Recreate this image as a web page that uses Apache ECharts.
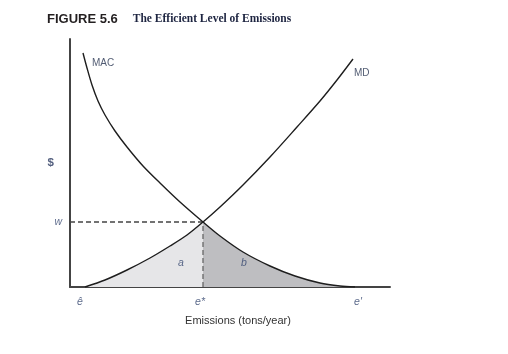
<!DOCTYPE html>
<html><head><meta charset="utf-8">
<script src="https://cdn.jsdelivr.net/npm/echarts@6/dist/echarts.min.js"></script>
<style>html,body{margin:0;padding:0;background:#fff}#c{width:508px;height:354px}</style>
</head><body><div id="c"></div>
<script>
// Curves (x = emissions, y = $), arbitrary units
const macPoints = [[13,234],[17,219],[22,202],[28,186],[35,172],[45,156],[57,140],[73,121],[90,104],[110,85],[133,65],[150,51],[173,35],[200,21],[225,11],[250,4],[270,1],[285,0]];
const mdPoints  = [[15,0],[35,7],[57,17],[80,29],[100,41],[117,52],[133,65],[150,80],[173,102],[200,130],[227,160],[250,186],[267,207],[283,228]];
const eHat = 15, eStar = 133, ePrime = 285, wLevel = 65;
const xTickLabels = [[eHat,'ê'],[eStar,'e*'],[ePrime,'e′']];
const curveLabels = [[22,224,'MAC'],[284,214,'MD']];
const areaLabels = [[111,24,'a'],[174,24,'b']];
const dollarLevel = 124;
const xMax = 320, yMax = 248;

const chart = echarts.init(document.getElementById('c'));
const areaA = mdPoints.filter(p => p[0] <= eStar);
const areaB = macPoints.filter(p => p[0] >= eStar);
const lineCol = '#1e1e1e';
const labelOffsets = [-5, -3, 3];
const labCol = '#34466f';
chart.setOption({
  animation:false,
  title:{left:42, top:5, text:'{a|FIGURE 5.6}   {b|The Efficient Level of Emissions}',
    textStyle:{rich:{
      a:{fontFamily:'Liberation Sans', fontWeight:'bold', fontSize:13, color:'#231f20'},
      b:{fontFamily:'Liberation Serif', fontWeight:'bold', fontSize:11.5, color:'#1d2440'}}}},
  grid:{left:70, right:118, top:39, bottom:67},
  xAxis:{type:'value', min:0, max:xMax, axisLine:{show:true,onZero:false,lineStyle:{color:'#444',width:2}},
    axisTick:{show:false}, axisLabel:{show:false}, splitLine:{show:false}},
  yAxis:{type:'value', min:0, max:yMax, axisLine:{show:true,onZero:false,lineStyle:{color:'#444',width:2}},
    axisTick:{show:false}, axisLabel:{show:false}, splitLine:{show:false}},
  graphic:[{type:'text', style:{text:'Emissions (tons/year)', x:238, y:321, align:'center', verticalAlign:'middle',
    font:'11px Liberation Sans', fill:'#333'}}],
  series:[
    {type:'line', data:areaA, smooth:0.3, symbol:'none', lineStyle:{width:0}, areaStyle:{color:'#e6e6e8',opacity:1}, z:1},
    {type:'line', data:areaB, smooth:0.3, symbol:'none', lineStyle:{width:0}, areaStyle:{color:'#bebec1',opacity:1}, z:1},
    {type:'line', data:[[0,wLevel],[eStar,wLevel]], symbol:'none', lineStyle:{color:'#444',width:1.3,type:[5,3]}, z:3},
    {type:'line', data:[[eStar,0],[eStar,wLevel]], symbol:'none', lineStyle:{color:'#666',width:1.3,type:[5,3]}, z:3},
    {name:'MAC', type:'line', data:macPoints, smooth:0.3, symbol:'none', lineStyle:{color:lineCol,width:1.4}, z:4},
    {name:'MD', type:'line', data:mdPoints, smooth:0.3, symbol:'none', lineStyle:{color:lineCol,width:1.4}, z:4},
    {type:'scatter', symbolSize:0, z:5, data:xTickLabels.map((d,i)=>({value:[d[0],0], name:d[1], label:{offset:[labelOffsets[i],0]}})),
      label:{show:true, position:'bottom', distance:10, formatter:p=>p.name, fontFamily:'Liberation Sans', fontStyle:'italic', fontSize:10.5, color:labCol}},
    {type:'scatter', symbolSize:0, z:5, data:[{value:[0,wLevel],name:'w'}],
      label:{show:true, position:'left', distance:8, formatter:p=>p.name, fontFamily:'Liberation Sans', fontStyle:'italic', fontSize:10.5, color:labCol}},
    {type:'scatter', symbolSize:0, z:5, data:[{value:[0,dollarLevel],name:'$'}],
      label:{show:true, position:'left', distance:16, formatter:p=>p.name, fontFamily:'Liberation Sans', fontWeight:'bold', fontSize:11.5, color:'#2a3a60'}},
    {type:'scatter', symbolSize:0, z:5, data:curveLabels.map(d=>({value:[d[0],d[1]], name:d[2]})),
      label:{show:true, position:'right', distance:0, formatter:p=>p.name, fontFamily:'Liberation Sans', fontSize:10, color:'#26324f'}},
    {type:'scatter', symbolSize:0, z:5, data:areaLabels.map(d=>({value:[d[0],d[1]], name:d[2]})),
      label:{show:true, position:'inside', formatter:p=>p.name, fontFamily:'Liberation Sans', fontStyle:'italic', fontSize:10.5, color:labCol}}
  ]
});
</script></body></html>
